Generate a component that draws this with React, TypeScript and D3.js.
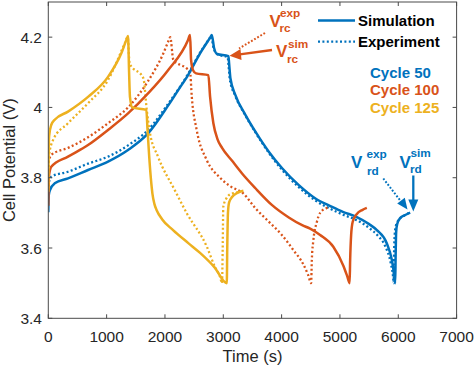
import React from "react";
import * as d3 from "d3";

type Pt = [number, number];

// [time (s), potential (V)]
const cycle50Sim: Pt[] = [
  [0, 3.702], [9, 3.751], [29, 3.765], [110, 3.784], [338, 3.798], [681, 3.822], [1024, 3.846],
  [1367, 3.879], [1710, 3.926], [2053, 4.005], [2230, 4.05], [2396, 4.092], [2602, 4.154], [2780, 4.2],
  [2803, 4.206], [2842, 4.169], [2894, 4.152], [3088, 4.146], [3100, 4.125], [3122, 4.083],
  [3208, 4.035], [3379, 3.979], [3551, 3.931], [3780, 3.874], [4009, 3.827], [4295, 3.779],
  [4580, 3.741], [4866, 3.717], [5050, 3.703], [5290, 3.688], [5500, 3.668], [5633, 3.651],
  [5804, 3.613], [5890, 3.566], [5930, 3.523], [5947, 3.5],
  [5955, 3.58], [5964, 3.646], [5981, 3.668], [6033, 3.685], [6119, 3.694], [6204, 3.701],
];
const cycle50Exp: Pt[] = [
  [0, 3.75], [15, 3.79], [51, 3.803], [338, 3.817], [681, 3.84], [1024, 3.86], [1367, 3.892],
  [1710, 3.936], [2053, 4.01], [2396, 4.095], [2602, 4.156], [2770, 4.198], [2790, 4.203],
  [2835, 4.168], [2900, 4.151], [3075, 4.143], [3090, 4.12], [3112, 4.08], [3200, 4.035],
  [3379, 3.977], [3551, 3.929], [3780, 3.871], [4009, 3.822], [4295, 3.773], [4580, 3.735],
  [4866, 3.709], [5050, 3.695], [5290, 3.679], [5500, 3.657], [5650, 3.635], [5780, 3.604],
  [5870, 3.558], [5910, 3.52], [5922, 3.5],
  [5928, 3.585], [5940, 3.64], [5960, 3.664], [6010, 3.681], [6100, 3.692], [6180, 3.7],
];
const cycle100Sim: Pt[] = [
  [0, 3.72], [8, 3.8], [51, 3.831], [338, 3.86], [681, 3.893], [1024, 3.936], [1367, 3.983],
  [1710, 4.04], [2053, 4.106], [2396, 4.192], [2430, 4.206], [2448, 4.135], [2482, 4.106],
  [2533, 4.097], [2744, 4.092], [2774, 4.03], [2830, 3.955], [2900, 3.91], [2979, 3.885],
  [3151, 3.848], [3322, 3.812], [3551, 3.77], [3837, 3.722], [4123, 3.687], [4352, 3.665],
  [4489, 3.655], [4660, 3.637], [4889, 3.603], [5060, 3.549], [5124, 3.52], [5166, 3.5],
  [5175, 3.566], [5192, 3.637], [5218, 3.674], [5290, 3.697], [5381, 3.708], [5461, 3.714],
];
const cycle100Exp: Pt[] = [
  [0, 3.78], [8, 3.845], [51, 3.865], [340, 3.885], [680, 3.915], [1024, 3.955], [1367, 4.0],
  [1710, 4.075], [1973, 4.154], [2070, 4.193], [2090, 4.2], [2144, 4.135], [2374, 4.111],
  [2430, 4.102], [2460, 4.03], [2545, 3.935], [2717, 3.85], [2945, 3.8], [3117, 3.776],
  [3345, 3.755], [3551, 3.713], [3780, 3.675], [4000, 3.638], [4202, 3.594], [4374, 3.553],
  [4455, 3.523], [4506, 3.5],
  [4518, 3.566], [4545, 3.623], [4604, 3.674], [4660, 3.7], [4775, 3.714], [4832, 3.717],
];
const cycle125Sim: Pt[] = [
  [0, 3.76], [5, 3.85], [15, 3.92], [50, 3.95], [110, 3.965], [338, 3.988], [681, 4.03],
  [1024, 4.087], [1252, 4.154], [1350, 4.197], [1367, 4.203], [1385, 4.1], [1400, 4.03],
  [1440, 4.0], [1681, 3.993], [1700, 3.94], [1730, 3.86], [1760, 3.795], [1785, 3.755],
  [1820, 3.725], [1860, 3.707], [1950, 3.682], [2139, 3.651], [2400, 3.614], [2602, 3.586],
  [2850, 3.545], [3060, 3.5],
  [3068, 3.6], [3080, 3.7], [3100, 3.73], [3150, 3.745], [3240, 3.757], [3345, 3.763],
];
const cycle125Exp: Pt[] = [
  [0, 3.78], [10, 3.86], [81, 3.907], [338, 3.955], [681, 4.012], [1024, 4.078], [1310, 4.182],
  [1360, 4.2], [1395, 4.125], [1630, 4.083], [1690, 3.99], [1740, 3.93], [1881, 3.86],
  [2167, 3.765], [2374, 3.699], [2717, 3.604], [2860, 3.545], [2945, 3.518], [2978, 3.5],
  [2990, 3.6], [3000, 3.717], [3050, 3.74], [3100, 3.751], [3200, 3.757], [3290, 3.76],
];

const xTicks = [0, 1000, 2000, 3000, 4000, 5000, 6000, 7000];
const yTicks = [3.4, 3.6, 3.8, 4.0, 4.2];
const yTickLabels = ["3.4", "3.6", "3.8", "4", "4.2"];
const cycleNames = ["Cycle 50", "Cycle 100", "Cycle 125"];
const legendNames = ["Simulation", "Experiment"];

const BLUE = "#0072BD";
const ORANGE = "#D95319";
const YELLOW = "#EDB120";
const FONT = "'Liberation Sans', Arial, Helvetica, sans-serif";
const AX = "#4a4a4a";

export default function App() {
  const W = 474, H = 367;
  const L = 48.3, R = 456.6, T = 2, B = 318.3;
  const x = d3.scaleLinear().domain([0, 7000]).range([L, R]);
  const y = d3.scaleLinear().domain([3.4, 4.3]).range([B, T]);
  const line = d3
    .line<Pt>()
    .x((d) => x(d[0]))
    .y((d) => y(d[1]))
    .curve(d3.curveMonotoneX);

  const series = [
    { d: cycle50Exp, c: BLUE, dot: true },
    { d: cycle100Exp, c: ORANGE, dot: true },
    { d: cycle125Exp, c: YELLOW, dot: true },
    { d: cycle50Sim, c: BLUE, dot: false },
    { d: cycle100Sim, c: ORANGE, dot: false },
    { d: cycle125Sim, c: YELLOW, dot: false },
  ];
  const cycleColors = [BLUE, ORANGE, YELLOW];
  const dash = "2 2.4";

  return (
    <svg width={W} height={H} style={{ position: "absolute", left: 0, top: 0, background: "#fff" }} fontFamily={FONT}>
      <defs>
        <clipPath id="plot">
          <rect x={L} y={T} width={R - L} height={B - T} />
        </clipPath>
      </defs>
      <rect x={0} y={0} width={W} height={H} fill="#fff" />
      <g clipPath="url(#plot)">
        {series.map((s, i) => (
          <path
            key={i}
            d={line(s.d) || ""}
            fill="none"
            stroke={s.c}
            strokeWidth={s.dot ? 2.3 : 2.5}
            strokeDasharray={s.dot ? dash : undefined}
            strokeLinejoin="round"
          />
        ))}
      </g>
      {/* axes box */}
      <rect x={L} y={T} width={R - L} height={B - T} fill="none" stroke={AX} strokeWidth={1} />
      {xTicks.map((t) => (
        <g key={"x" + t}>
          <line x1={x(t)} x2={x(t)} y1={B} y2={B - 4} stroke={AX} />
          <line x1={x(t)} x2={x(t)} y1={T} y2={T + 4} stroke={AX} />
          <text x={x(t)} y={341.5} textAnchor="middle" fontSize={15.5} fill="#262626">
            {t}
          </text>
        </g>
      ))}
      {yTicks.map((v, i) => (
        <g key={"y" + v}>
          <line x1={L} x2={L + 4} y1={y(v)} y2={y(v)} stroke={AX} />
          <line x1={R} x2={R - 4} y1={y(v)} y2={y(v)} stroke={AX} />
          <text x={42} y={y(v) + 5.6} textAnchor="end" fontSize={15.5} fill="#262626">
            {yTickLabels[i]}
          </text>
        </g>
      ))}
      <text x={(L + R) / 2} y={362} textAnchor="middle" fontSize={16.5} fill="#262626">
        Time (s)
      </text>
      <text
        transform={`translate(15,${(T + B) / 2}) rotate(-90)`}
        textAnchor="middle"
        fontSize={16.5}
        fill="#262626"
      >
        Cell Potential (V)
      </text>

      {/* legend */}
      <line x1={318} x2={355} y1={20.5} y2={20.5} stroke={BLUE} strokeWidth={2.5} />
      <line x1={318} x2={355} y1={41.7} y2={41.7} stroke={BLUE} strokeWidth={2.3} strokeDasharray={dash} />
      <text x={358} y={26} fontSize={15} fontWeight="bold" fill="#000">
        {legendNames[0]}
      </text>
      <text x={358} y={46.8} fontSize={15} fontWeight="bold" fill="#000">
        {legendNames[1]}
      </text>
      {cycleNames.map((n, i) => (
        <text key={n} x={370} y={77.5 + i * 17.5} fontSize={15} fontWeight="bold" fill={cycleColors[i]}>
          {n}
        </text>
      ))}

      {/* V_rc annotations */}
      <g fill={ORANGE} fontWeight="bold">
        <text x={269.5} y={26.5} fontSize={17}>V</text>
        <text x={280} y={17} fontSize={11.8}>exp</text>
        <text x={279.5} y={31.7} fontSize={11.8}>rc</text>
        <text x={276} y={56.7} fontSize={17}>V</text>
        <text x={288} y={47.5} fontSize={11.8}>sim</text>
        <text x={287} y={63} fontSize={11.8}>rc</text>
      </g>
      <line x1={272} x2={238} y1={50} y2={54.6} stroke={ORANGE} strokeWidth={2.3} />
      <path d="M229.5,55.8 L240.5,49 L241.5,60 Z" fill={ORANGE} />
      <line x1={265} x2={239} y1={33} y2={48.5} stroke={ORANGE} strokeWidth={2} strokeDasharray="1.8 1.8" />

      {/* V_rd annotations */}
      <g fill={BLUE} fontWeight="bold">
        <text x={351} y={168.3} fontSize={17}>V</text>
        <text x={366.5} y={157.5} fontSize={11.8}>exp</text>
        <text x={367} y={175} fontSize={11.8}>rd</text>
        <text x={399.5} y={168.3} fontSize={17}>V</text>
        <text x={410.5} y={157} fontSize={11.8}>sim</text>
        <text x={410} y={173.3} fontSize={11.8}>rd</text>
      </g>
      <line x1={413.3} x2={413.3} y1={175.5} y2={201} stroke={BLUE} strokeWidth={2.3} />
      <path d="M413.3,211.5 L408.3,199.5 L418.3,199.5 Z" fill={BLUE} />
      <line x1={383.3} x2={401} y1={178.5} y2={201.5} stroke={BLUE} strokeWidth={2} strokeDasharray="1.8 1.8" />
      <path d="M407.5,209.5 L397.2,203.5 L404.8,197.8 Z" fill={BLUE} />
    </svg>
  );
}
